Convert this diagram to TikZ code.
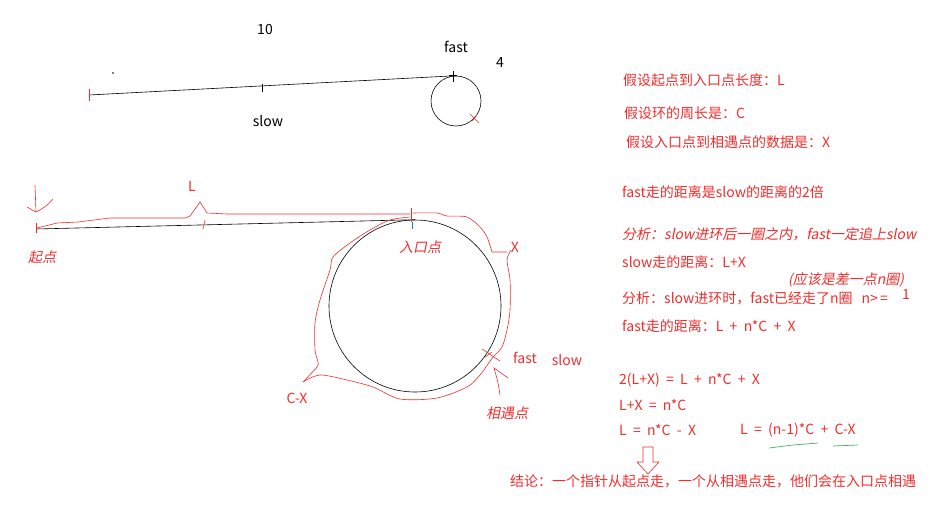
\documentclass[tikz,border=0pt]{standalone}
\usepackage{fontspec}
\newfontfamily\cjk[AutoFakeSlant=0.2, WordSpace=2]{Noto Sans CJK SC}
\definecolor{rd}{RGB}{240,45,45}
\definecolor{gr}{RGB}{70,175,90}
\begin{document}
\begin{tikzpicture}[x=1pt,y=-1pt,
  txt/.style={font=\cjk\fontsize{14}{16}\selectfont, inner sep=0pt},
  rt/.style={txt, text=rd},
  it/.style={rt, font=\cjk\itshape\fontsize{14}{16}\selectfont},
  rl/.style={rd, line width=0.6pt},
  bl/.style={black, line width=0.6pt}]
\useasboundingbox (0,0) rectangle (939,504);
% ---------- top sketch ----------
\node[txt] (ten) at (265,30) {10};
\node[txt] (fastT) at (456,47) {fast};
\node[txt] (four) at (500,63) {4};
\node[txt] (slowT) at (268,121) {slow};
\fill (113,73) circle (0.9);
\coordinate (s0) at (89,95);
\node[circle, draw, bl, minimum size=50pt, inner sep=0pt] (ring) at (456,101) {};
\draw[bl] (s0) -- (ring.north);
\draw[rl] (89,89) -- (89,101);
\draw[bl] (262,84) -- (262,92);
\draw[bl] (453,71) -- (453,82) (449,75) -- (457,75);
\draw[rl] (470,114) -- (479,123) (472,121) -- (477,115);
% ---------- bottom sketch ----------
\node[circle, draw, bl, minimum size=172pt, inner sep=0pt] (loop) at (415,306) {};
\coordinate (b0) at (36,229);
\draw[bl] (b0) -- (loop.north);
\draw[rl] (36,223) -- (36,233);
\draw[rl] (205,220) -- (203,229);
% start arrow
\draw[rl] (35,185) -- (36,212);
\draw[rl] (27,207) -- (36,212) .. controls (44,208) and (49,204) .. (53,199);
% red path along line with L bump
\draw[rl] (37,228) -- (57,223) -- (78,222) -- (110,218) -- (185,218) -- (190,216)
  -- (200,202) -- (207,213) -- (227,214) -- (410,214);
\draw[rl] (411,208) -- (411,222);
\draw[cyan!60!blue, line width=0.5pt] (412,222) -- (412,229);
% outer red outline around loop
\draw[rl] plot[smooth] coordinates {(413,213) (437,213) (447,216) (467,217) (480,227) (487,237) (492,252)} -- (507,252);
\draw[rl] plot[smooth] coordinates {(511,250) (507,260) (510,280) (510,310) (507,330) (502,347) (493,357) (488,364) (480,375) (467,387) (437,398) (400,399) (373,387) (347,380) (320,375) (303,382)};
\draw[rl] plot[smooth] coordinates {(303,382) (317,367) (318,362) (315,350) (315,323) (320,300) (330,270) (333,257) (350,243) (370,230) (390,220) (410,217)};
% meeting point marks
\draw[rl] (482,349) -- (500,361) (485,357) -- (492,352);
\draw[rl] (500,395) .. controls (498,382) .. (494,368) -- (508,378);
% labels
\node[rt] (Llab) at (192,186) {L};
\node[it] (qidian) at (42,257) {起点};
\node[it] (rukou) at (420,247) {入口点};
\node[rt] (Xlab) at (515,247) {X};
\node[rt] (CX) at (297,398) {C-X};
\node[rt] (fastB) at (525,358) {fast};
\node[rt] (slowB) at (567,360) {slow};
\node[it] (xiangyu) at (507,413) {相遇点};
% ---------- right text ----------
\begin{scope}[every node/.append style={anchor=west}]
\node[rt] (t1) at (623,80) {假设起点到入口点长度：L};
\node[rt] (t2) at (624,113) {假设环的周长是：C};
\node[rt] (t3) at (626,142) {假设入口点到相遇点的数据是：X};
\node[rt] (t4) at (622,192) {fast走的距离是slow的距离的2倍};
\node[it] (t5) at (622,234) {分析：slow进环后一圈之内，fast一定追上slow};
\node[rt] (t6) at (622,262) {slow走的距离：L+X};
\node[it] (t7) at (788,280) {(应该是差一点n圈)};
\node[rt] (t8) at (622,298) {分析：slow进环时，fast已经走了n圈\hspace{9pt}n>\,=};
\node[rt] (t8b) at (902,295) {1};
\node[rt] (t9) at (622,326) {fast走的距离：L + n*C + X};
\node[rt] (e1) at (619,380) {2(L+X) = L + n*C + X};
\node[rt] (e2) at (619,405) {L+X = n*C};
\node[rt] (e3) at (619,430) {L = n*C - X};
\node[rt] (e4) at (740,430) {L = (n-1)*C + C-X};
\node[rt] (concl) at (510,481) {结论：一个指针从起点走，一个从相遇点走，他们会在入口点相遇};
\end{scope}
\draw[gr, line width=0.7pt] (769,448) -- (793,445) -- (818,443);
\draw[gr, line width=0.7pt] (833,446) -- (858,445);
% hollow down arrow
\draw[rl] (643,447) -- (653,447) -- (653,462) -- (659,462) -- (648,474) -- (637,462) -- (643,462) -- cycle;
\end{tikzpicture}
\end{document}
